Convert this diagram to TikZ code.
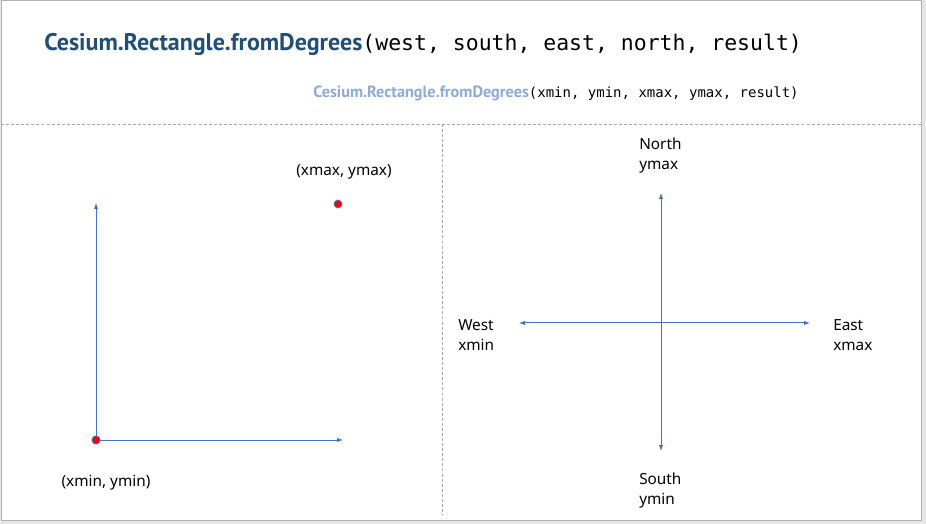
\documentclass[tikz,border=0pt]{standalone}
\usepackage{fontspec}
\setmainfont{Noto Sans}
\newfontfamily\codefont{DejaVu Sans Mono}
\newfontfamily\namefont{PT Sans}
\usetikzlibrary{arrows.meta}
\definecolor{axisblue}{RGB}{68,114,196}
\definecolor{titleblue}{RGB}{31,78,121}
\definecolor{subblue}{RGB}{142,170,219}
\definecolor{sepgray}{RGB}{166,166,166}
\definecolor{pagegray}{RGB}{230,230,230}
\tikzset{
  axis/.style={axisblue, line width=0.75pt},
  tipend/.style={-{Latex[length=4.5pt,width=3.4pt]}},
  tipboth/.style={{Latex[length=4.5pt,width=3.4pt]}-{Latex[length=4.5pt,width=3.4pt]}},
  sep/.style={sepgray, line width=0.6pt, dash pattern=on 2.2pt off 1.6pt},
  dot/.style={circle, fill=red, draw=axisblue, line width=0.5pt, inner sep=0pt, minimum size=6pt},
  lbl/.style={inner sep=0pt, font=\fontsize{11.5}{15}\selectfont},
  twolbl/.style={lbl, align=left, anchor=west}
}

\begin{document}
\begin{tikzpicture}[x=0.75pt,y=0.75pt,yscale=-1,xscale=1]
\useasboundingbox (0,0) rectangle (926,524);

%Page frame
\fill[pagegray] (0,0) rectangle (926,524);
\draw[gray!60, fill=white, line width=0.75pt] (1,1) rectangle (921,520);

%Separators
\draw[sep] (1,124) -- (921,124);
\draw[sep] (442,124) -- (442,515);

% Text Node
\node[inner sep=0pt, anchor=base west] (title) at (44,51)
  {\namefont\bfseries\fontsize{18}{20}\selectfont\color{titleblue}Cesium.Rectangle.fromDegrees\codefont\mdseries\fontsize{16.1}{20}\selectfont\color{black}(west, south, east, north, result)};
% Text Node
\node[inner sep=0pt, anchor=base west] (subtitle) at (313,98)
  {\namefont\bfseries\fontsize{12.2}{14}\selectfont\color{subblue}Cesium.Rectangle.fromDegrees\codefont\mdseries\fontsize{10.5}{14}\selectfont\color{black}(xmin, ymin, xmax, ymax, result)};

%Left panel: corner points
\coordinate (ytip) at (96,203);
\coordinate (xtip) at (343,440);
\node[dot] (minpt) at (96,440) {};
\node[dot] (maxpt) at (338,204) {};
\draw[axis, tipend] (minpt.center) -- (ytip);
\draw[axis, tipend] (minpt.center) -- (xtip);
\node[dot] at (minpt) {};

% Text Node
\node[lbl, anchor=base] (maxlbl) at (344,176) {(xmax, ymax)};
% Text Node
\node[lbl, anchor=base] (minlbl) at (106,486) {(xmin, ymin)};

%Right panel: compass
\coordinate (north) at (661,193);
\coordinate (south) at (661,451);
\coordinate (west) at (519,323);
\coordinate (east) at (810,323);
\draw[axis, tipboth] (south) -- (north);
\draw[axis, tipboth] (west) -- (east);

% Text Node
\node[twolbl] (northlbl) at (639,156) {North\\ymax};
% Text Node
\node[twolbl] (westlbl) at (458,335) {West\\xmin};
% Text Node
\node[twolbl] (eastlbl) at (833,335) {East\\xmax};
% Text Node
\node[twolbl] (southlbl) at (639,491) {South\\ymin};

\end{tikzpicture}
\end{document}
